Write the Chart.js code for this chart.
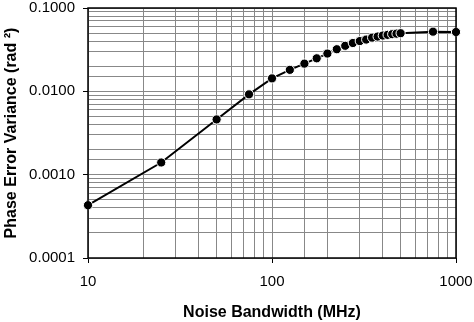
<!DOCTYPE html>
<html>
<head>
<meta charset="utf-8">
<script src="https://cdn.jsdelivr.net/npm/chart.js@4/dist/chart.umd.min.js"></script>
<style>
  html, body { margin: 0; padding: 0; background: #fff; }
  canvas { display: block; }
</style>
</head>
<body>
<canvas id="chart" width="474" height="322"></canvas>
<script>
// Noise bandwidth (MHz) and the resulting phase error variance (rad^2)
const bandwidth = [10, 25, 50, 75, 100, 125, 150, 175, 200, 225, 250, 275, 300, 325, 350, 375, 400, 425, 450, 475, 500, 750, 1000];
const variance = [0.00043, 0.0014, 0.0046, 0.0092, 0.0143, 0.0181, 0.0215, 0.0249, 0.0284, 0.0320, 0.0352, 0.0380, 0.0401, 0.0418, 0.0441, 0.0454, 0.0467, 0.0476, 0.0485, 0.0492, 0.0498, 0.0520, 0.0515];

// Labelled decades on each axis
const xTickValues = [10, 100, 1000];
const xTickLabels = ['10', '100', '1000'];
const yTickValues = [0.0001, 0.001, 0.01, 0.1];
const yTickLabels = ['0.0001', '0.0010', '0.0100', '0.1000'];

const FONT = '"Liberation Sans", Arial, Helvetica, sans-serif';

function labelFor(value, values, labels) {
  for (let i = 0; i < values.length; i++) {
    if (Math.abs(value - values[i]) / values[i] < 1e-6) return labels[i];
  }
  return '';
}
function isDecade(value) {
  const l = Math.log10(value);
  return Math.abs(l - Math.round(l)) < 1e-6;
}
function clearPadding(scale) {
  scale.paddingTop = 0;
  scale.paddingBottom = 0;
  scale.paddingLeft = 0;
  scale.paddingRight = 0;
}

// Black frame around the plotting area
const frame = {
  id: 'frame',
  afterDatasetsDraw(chart) {
    const { ctx, chartArea: a } = chart;
    ctx.save();
    ctx.strokeStyle = '#000';
    ctx.lineWidth = 1.5;
    ctx.strokeRect(a.left, a.top, a.right - a.left, a.bottom - a.top);
    ctx.restore();
  }
};

const points = bandwidth.map((x, i) => ({ x, y: variance[i] }));

new Chart(document.getElementById('chart'), {
  type: 'line',
  data: {
    datasets: [{
      data: points,
      borderColor: '#000',
      borderWidth: 2,
      backgroundColor: '#000',
      pointBackgroundColor: '#000',
      pointBorderColor: '#fff',
      pointBorderWidth: 1,
      pointRadius: 4.6,
      tension: 0,
      clip: false
    }]
  },
  options: {
    responsive: false,
    animation: false,
    layout: { padding: { top: 8, right: 18, left: 0, bottom: 0 } },
    plugins: { legend: { display: false }, tooltip: { enabled: false } },
    scales: {
      x: {
        type: 'logarithmic',
        min: 10,
        max: 1000,
        afterFit(scale) { scale.height = 64; clearPadding(scale); },
        border: { display: false },
        grid: {
          color: '#888',
          lineWidth: 1,
          tickLength: 5,
          tickColor: ctx => isDecade(ctx.tick.value) ? '#000' : 'rgba(0,0,0,0)'
        },
        ticks: {
          autoSkip: false,
          maxRotation: 0,
          padding: 10,
          color: '#000',
          font: { family: FONT, size: 15 },
          callback: v => labelFor(v, xTickValues, xTickLabels)
        },
        title: {
          display: true,
          text: 'Noise Bandwidth (MHz)',
          color: '#000',
          font: { family: FONT, size: 16, weight: 'bold' },
          padding: { top: 0, bottom: 0 }
        }
      },
      y: {
        type: 'logarithmic',
        min: 0.0001,
        max: 0.1,
        afterFit(scale) { scale.width = 88; clearPadding(scale); },
        border: { display: false },
        grid: {
          color: '#888',
          lineWidth: 1,
          tickLength: 5,
          tickColor: ctx => isDecade(ctx.tick.value) ? '#000' : 'rgba(0,0,0,0)'
        },
        ticks: {
          autoSkip: false,
          padding: 8,
          color: '#000',
          font: { family: FONT, size: 15 },
          callback: v => labelFor(v, yTickValues, yTickLabels)
        },
        title: {
          display: true,
          text: 'Phase Error Variance (rad \u00B2)',
          color: '#000',
          font: { family: FONT, size: 16, weight: 'bold' },
          padding: { top: 2, bottom: 0 }
        }
      }
    }
  },
  plugins: [frame]
});
</script>
</body>
</html>
